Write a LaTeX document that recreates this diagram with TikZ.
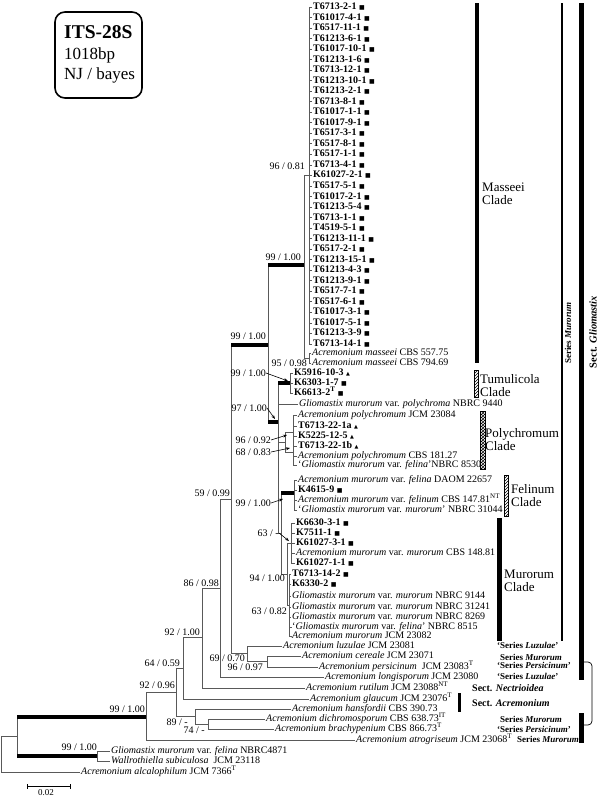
\documentclass[tikz,border=0pt]{standalone}
\usepackage{fontspec}
\setmainfont{Liberation Serif}
\newfontfamily\symfont{DejaVu Sans}
\usetikzlibrary{arrows.meta,patterns}
\newcommand{\sq}{\hspace{2.5pt}{\symfont\fontsize{6}{6}\selectfont ■}}
\newcommand{\tri}{\hspace{2.5pt}{\symfont\fontsize{5}{5}\selectfont ▲}}
\def\br(#1)(#2){\draw[br] (#1 |- #2) -- (#2);}
\def\vb(#1)(#2)(#3){\draw[br] (#1 |- #2) -- (#1 |- #3);}
\def\tk(#1)(#2){\draw[thk] (#1 |- #2) -- (#2);}
\tikzset{
  br/.style={draw=black!65, line width=0.8pt},
  thk/.style={line width=4pt, line cap=butt},
  lf/.style={anchor=west, inner sep=1pt, text height=7pt, text depth=2pt, font=\fontsize{10}{11}\selectfont},
  blf/.style={lf, font=\fontsize{10}{11}\selectfont\bfseries},
  tight/.style={inner sep=0pt, text height=6.5pt, text depth=1.5pt},
  bs/.style={anchor=east, inner sep=0pt, font=\fontsize{10}{11}\selectfont},
  arr/.style={-{Stealth[length=4pt,width=3pt]}, line width=0.6pt},
  clade/.style={anchor=west, inner sep=0pt, align=left, font=\fontsize{13}{13}\selectfont},
  ser/.style={anchor=west, inner sep=0pt, font=\fontsize{9}{9}\selectfont\bfseries},
  sect/.style={anchor=west, inner sep=0pt, font=\fontsize{10}{10}\selectfont\bfseries},
}
\begin{document}
\begin{tikzpicture}[x=1pt,y=-1pt]
\useasboundingbox (0,0) rectangle (600,797);

%%%%% BOX %%%%%
\draw[line width=1.6pt, rounded corners=10pt] (55,12) rectangle (142,98);
\node[anchor=west, inner sep=0pt, font=\fontsize{19.5}{20}\selectfont\bfseries] (ttl) at (64,32) {ITS-28S};
\node[anchor=west, inner sep=0pt, font=\fontsize{17}{17}\selectfont] (len) at (64,55) {1018bp};
\node[anchor=west, inner sep=0pt, font=\fontsize{17}{17}\selectfont] (mth) at (64,75) {NJ / bayes};

%%%%% INTERNAL NODES %%%%%
\coordinate (root) at (1,754);
\coordinate (nIn) at (17,736);
\coordinate (nOut) at (97,756);
\coordinate (nB99) at (146,717);
\coordinate (n9296) at (176,692);
\coordinate (n89) at (195,716);
\coordinate (n74) at (208,724);
\coordinate (n6459) at (183,668);
\coordinate (n9210) at (202,637);
\coordinate (n86) at (220,588);
\coordinate (n59) at (231,499);
\coordinate (n69) at (247,653);
\coordinate (n9697) at (267,661.5);
\coordinate (nB) at (268,345);
\coordinate (nM) at (304,265);
\coordinate (nN1) at (309,175);
\coordinate (nN2) at (309,358);
\coordinate (nE) at (278,422);
\coordinate (nT) at (290,383);
\coordinate (nG) at (285,442);
\coordinate (nP) at (293,432);
\coordinate (nQ) at (293,452);
\coordinate (nH) at (281,533);
\coordinate (nFe) at (294,493);
\coordinate (nMu) at (287,574);
\coordinate (nMu1) at (291,543);
\coordinate (nMu3) at (289,605);

%%%%% MASSEEI %%%%%
\foreach \nm [count=\i] in {T6713-2-1,T61017-4-1,T6517-11-1,T61213-6-1,T61017-10-1,T61213-1-6,
  T6713-12-1,T61213-10-1,T61213-2-1,T6713-8-1,T61017-1-1,T61017-9-1,T6517-3-1,T6517-8-1,
  T6517-1-1,T6713-4-1,K61027-2-1,T6517-5-1,T61017-2-1,T61213-5-4,T6713-1-1,T4519-5-1,
  T61213-11-1,T6517-2-1,T61213-15-1,T61213-4-3,T61213-9-1,T6517-7-1,T6517-6-1,T61017-3-1,
  T61017-5-1,T61213-3-9,T6713-14-1} {
  \node[blf] (m\i) at (312,{7+(\i-1)*10.53}) {\nm\sq};
  \draw[br] (nN1 |- m\i.west) -- (m\i.west);
}
\vb(nN1)(m1.west)(m33.west)
\node[lf] (ma1) at (311,353) {\textit{Acremonium masseei} CBS 557.75};
\node[lf] (ma2) at (311,363) {\textit{Acremonium masseei} CBS 794.69};
\vb(nN2)(ma1.west)(ma2.west)
\br(nN2)(ma1.west) \br(nN2)(ma2.west)
\vb(nM)(nN1)(nN2)
\br(nM)(nN1) \br(nM)(nN2)

%%%%% TUMULICOLA %%%%%
\node[blf] (t1) at (293,373) {K5916-10-3\tri};
\node[blf] (t2) at (293,383) {K6303-1-7\sq};
\node[blf] (t3) at (293,393) {K6613-2\textsuperscript{\scriptsize T}\sq};
\vb(nT)(t1.west)(t3.west)
\foreach \t in {t1,t2,t3} {\draw[br] (nT |- \t.west) -- (\t.west);}

%%%%% POLYCHROMUM %%%%%
\node[lf] (pc) at (298,404) {\textit{Gliomastix murorum} var. \textit{polychroma} NBRC 9440};
\node[lf] (p1) at (297,415) {\textit{Acremonium polychromum} JCM 23084};
\node[blf] (p2) at (297,426) {T6713-22-1a\tri};
\node[blf] (p3) at (297,436) {K5225-12-5\tri};
\node[blf] (p4) at (297,446) {T6713-22-1b\tri};
\node[lf] (p5) at (297,456) {\textit{Acremonium polychromum} CBS 181.27};
\node[lf] (p6) at (297,465) {`\textit{Gliomastix murorum} var. \textit{felina}'NBRC 8530};
\vb(nP)(p1.west)(p6.west)
\foreach \p in {p1,p2,p3,p4,p5,p6} {\draw[br] (nP |- \p.west) -- (\p.west);}
\vb(nG)(nP)(nQ)
\br(nG)(nP) \br(nG)(nQ)

%%%%% FELINUM %%%%%
\node[lf] (f1) at (297,480) {\textit{Acremonium murorum} var. \textit{felina} DAOM 22657};
\node[blf] (f2) at (297,490) {K4615-9\sq};
\node[lf] (f3) at (297,500) {\textit{Acremonium murorum} var. \textit{felinum} CBS 147.81\textsuperscript{\scriptsize NT}};
\node[lf] (f4) at (297,510) {`\textit{Gliomastix murorum} var. \textit{murorum}' NBRC 31044};
\vb(nFe)(f1.west)(f4.west)
\foreach \f in {f1,f2,f3,f4} {\draw[br] (nFe |- \f.west) -- (\f.west);}

%%%%% MURORUM %%%%%
\node[blf] (u1) at (295,523) {K6630-3-1\sq};
\node[blf] (u2) at (295,533) {K7511-1\sq};
\node[blf] (u3) at (295,543) {K61027-3-1\sq};
\node[lf] (u4) at (295,553) {\textit{Acremonium murorum} var. \textit{murorum} CBS 148.81};
\node[blf] (u5) at (295,563) {K61027-1-1\sq};
\vb(nMu1)(u1.west)(u5.west)
\foreach \u in {u1,u2,u3,u4,u5} {\draw[br] (nMu1 |- \u.west) -- (\u.west);}
\node[blf] (u6) at (291,574) {T6713-14-2\sq};
\node[blf] (u7) at (291,584) {K6330-2\sq};
\node[lf] (u8) at (291,596) {\textit{Gliomastix murorum} var. \textit{murorum} NBRC 9144};
\node[lf] (u9) at (291,607) {\textit{Gliomastix murorum} var. \textit{murorum} NBRC 31241};
\node[lf] (u10) at (291,617) {\textit{Gliomastix murorum} var. \textit{murorum} NBRC 8269};
\node[lf, tight] (u11) at (292,627) {`\textit{Gliomastix murorum} var. \textit{felina}' NBRC 8515};
\node[lf, tight] (u12) at (292,636) {\textit{Acremonium murorum} JCM 23082};
\vb(nMu3)(u6.west)(u12.west)
\foreach \u in {u6,u7,u8,u9,u10,u11,u12} {\draw[br] (nMu3 |- \u.west) -- (\u.west);}
\vb(nMu)(nMu1)(nMu3)
\br(nMu)(nMu1) \br(nMu)(nMu3)
\vb(nH)(nFe)(nMu)
\tk(nH)(nFe) \br(nH)(nMu)

%%%%% NODE E %%%%%
\vb(nE)(nT)(nH)
\tk(nE)(nT) \br(nE)(pc.west) \br(nE)(nG) \br(nE)(nH)
\vb(nB)(nM)(nE)
\tk(nB)(nM) \tk(nB)(nE)

%%%%% LOWER LEAVES %%%%%
\node[lf] (luz) at (282,646) {\textit{Acremonium luzulae} JCM 23081};
\node[lf] (cer) at (301,656) {\textit{Acremonium cereale} JCM 23071};
\node[lf] (pers) at (318,667) {\textit{Acremonium persicinum}\ \ JCM 23083\textsuperscript{\scriptsize T}};
\node[lf] (longi) at (324,677) {\textit{Acremonium longisporum} JCM 23080};
\node[lf] (rut) at (305,688) {\textit{Acremonium rutilum} JCM 23088\textsuperscript{\scriptsize NT}};
\node[lf] (glau) at (309,699) {\textit{Acremonium glaucum} JCM 23076\textsuperscript{\scriptsize T}};
\node[lf] (hans) at (291,709) {\textit{Acremonium hansfordii} CBS 390.73};
\node[lf] (dichro) at (265,719) {\textit{Acremonium dichromosporum} CBS 638.73\textsuperscript{\scriptsize IT}};
\node[lf] (brach) at (274,729) {\textit{Acremonium brachypenium} CBS 866.73\textsuperscript{\scriptsize T}};
\node[lf] (atro) at (355,740) {\textit{Acremonium atrogriseum} JCM 23068\textsuperscript{\scriptsize T}};
\node[lf] (g4871) at (110,751) {\textit{Gliomastix murorum} var. \textit{felina} NBRC4871};
\node[lf] (wal) at (110,761) {\textit{Wallrothiella subiculosa}\ \ JCM 23118};
\node[lf] (alc) at (80,772) {\textit{Acremonium alcalophilum} JCM 7366\textsuperscript{\scriptsize T}};

\vb(n9697)(cer.west)(pers.west)
\br(n9697)(cer.west) \br(n9697)(pers.west)
\vb(n69)(luz.west)(n9697)
\br(n69)(luz.west) \br(n69)(n9697)
\vb(n59)(nB)(n69)
\tk(n59)(nB) \br(n59)(n69)
\vb(n86)(n59)(longi.west)
\br(n86)(n59) \br(n86)(longi.west)
\vb(n9210)(n86)(rut.west)
\br(n9210)(n86) \br(n9210)(rut.west)
\vb(n6459)(n9210)(glau.west)
\br(n6459)(n9210) \br(n6459)(glau.west)
\vb(n74)(dichro.west)(brach.west)
\br(n74)(dichro.west) \br(n74)(brach.west)
\vb(n89)(hans.west)(n74)
\br(n89)(hans.west) \br(n89)(n74)
\vb(n9296)(n6459)(n89)
\br(n9296)(n6459) \br(n9296)(n89)
\vb(nB99)(n9296)(atro.west)
\br(nB99)(n9296) \br(nB99)(atro.west)
\vb(nOut)(g4871.west)(wal.west)
\br(nOut)(g4871.west) \br(nOut)(wal.west)
\vb(nIn)(nB99)(nOut)
\tk(nIn)(nB99) \tk(nIn)(nOut)
\vb(root)(nIn)(alc.west)
\br(root)(nIn) \br(root)(alc.west)

%%%%% SUPPORT VALUES %%%%%
\node[bs] (s9681) at (305,166) {96 / 0.81};
\node[bs] (sMas) at (301,257) {99 / 1.00};
\node[bs] (sB) at (266,336) {99 / 1.00};
\node[bs] (s9598) at (307,363) {95 / 0.98};
\node[bs] (sTum) at (266,373) {99 / 1.00};
\node[bs] (s97) at (267,408) {97 / 1.00};
\node[bs] (s9692) at (271,440) {96 / 0.92};
\node[bs] (s6883) at (271,452) {68 / 0.83};
\node[bs] (s59) at (230,493) {59 / 0.99};
\node[bs] (sFel) at (271,503) {99 / 1.00};
\node[bs] (s63) at (279,533) {63 / -};
\node[bs] (s94) at (285,578) {94 / 1.00};
\node[bs] (s86) at (219,583) {86 / 0.98};
\node[bs] (s6382) at (287,611) {63 / 0.82};
\node[bs] (s92) at (200,632) {92 / 1.00};
\node[bs] (s69) at (245,658) {69 / 0.70};
\node[bs] (s64) at (180,663) {64 / 0.59};
\node[bs] (s9697) at (263,667) {96 / 0.97};
\node[bs] (s9296) at (175,685) {92 / 0.96};
\node[bs] (sBig) at (145,709) {99 / 1.00};
\node[bs] (s89) at (188,722) {89 / -};
\node[bs] (s74) at (205,730) {74 / -};
\node[bs] (sOut) at (97,747) {99 / 1.00};

\coordinate (aTum) at (288,381);
\coordinate (a97) at (275,419);
\coordinate (a9692) at (287,435);
\coordinate (a6883) at (290,448);
\coordinate (aFel) at (283,499);
\coordinate (a63) at (289,541);
\draw[arr] (sTum.east) -- (aTum);
\draw[arr] (s97.east) -- (a97);
\draw[arr] (s9692.east) -- (a9692);
\draw[arr] (s6883.east) -- (a6883);
\draw[arr] (sFel.east) -- (aFel);
\draw[arr] (s63.east) -- (a63);

%%%%% CLADE BARS %%%%%
\fill (475,3) rectangle (479,363);
\node[clade] (cMas) at (482,193.5) {Masseei\\Clade};
\draw[pattern=north east lines] (474,370) rectangle (478,397);
\node[clade] (cTum) at (480,386) {Tumulicola\\Clade};
\draw[pattern=crosshatch] (480,411) rectangle (485,469);
\node[clade] (cPol) at (485,439.5) {Polychromum\\Clade};
\draw[pattern=north east lines] (504,475) rectangle (508,516);
\node[clade] (cFel) at (511,496) {Felinum\\Clade};
\fill (497,518) rectangle (502,641);
\node[clade] (cMur) at (504,580.5) {Murorum\\Clade};

\fill (561,3) rectangle (563,641);
\node[rotate=90, inner sep=0pt, font=\fontsize{9}{9}\selectfont\bfseries] (serMur) at (568,333) {Series \textit{Murorum}};
\fill (579,3) rectangle (584,680);
\fill (579,713) rectangle (584,743);
\node[rotate=90, inner sep=0pt, font=\fontsize{10.5}{10}\selectfont\bfseries] (sectGl) at (593,332) {Sect. \textit{Gliomastix}};
\draw[line width=0.7pt, rounded corners=4pt] (584,662) -- (592,662) -- (592,725) -- (584,725);

%%%%% SERIES LABELS %%%%%
\node[ser] (l1) at (497,645) {`Series \textit{Luzulae}'};
\node[ser] (l2) at (500,657) {Series \textit{Murorum}};
\node[ser] (l3) at (497,665.5) {`Series \textit{Persicinum}'};
\node[ser] (l4) at (497,676) {`Series \textit{Luzulae}'};
\node[sect] (l5) at (472,688) {Sect. \textit{Nectrioidea}};
\fill (458,693) rectangle (461,712);
\node[sect] (l6) at (472,703) {Sect. \textit{Acremonium}};
\node[ser] (l7) at (500,719) {Series \textit{Murorum}};
\node[ser] (l8) at (497,729) {`Series \textit{Persicinum}'};
\node[ser] (l9) at (517,739) {Series \textit{Murorum}};

%%%%% SCALE %%%%%
\coordinate (sc1) at (27,786);
\coordinate (sc2) at (70,786);
\draw[line width=0.7pt] (sc1) -- (sc2);
\draw[line width=0.7pt] ([yshift=-2.5pt]sc1) -- ([yshift=2.5pt]sc1);
\draw[line width=0.7pt] ([yshift=-2.5pt]sc2) -- ([yshift=2.5pt]sc2);
\node[inner sep=0pt, font=\fontsize{9}{9}\selectfont] (scl) at (46,793) {0.02};
\end{tikzpicture}
\end{document}
